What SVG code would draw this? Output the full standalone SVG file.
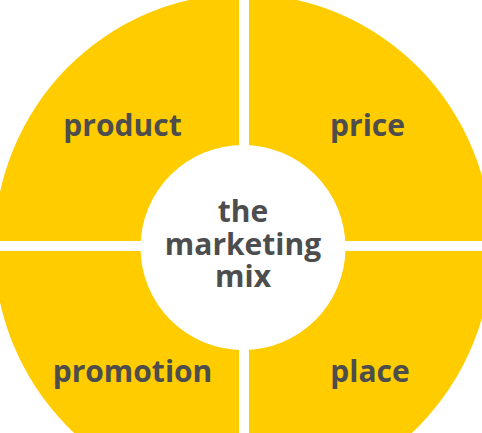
<svg xmlns="http://www.w3.org/2000/svg" width="482" height="433" viewBox="0 0 482 433">
  <style>
    .lbl { font-family: "Open Sans", "Liberation Sans", sans-serif; font-weight: bold; font-size: 30px; fill: #4d4d4d; text-anchor: middle; }
    .seg { fill: #ffcc00; }
  </style>
  <rect width="482" height="433" fill="#ffffff"/>
  <defs>
    <clipPath id="q1"><rect x="0" y="0" width="239" height="241"/></clipPath>
    <clipPath id="q2"><rect x="249" y="0" width="233" height="241"/></clipPath>
    <clipPath id="q3"><rect x="0" y="251" width="239" height="182"/></clipPath>
    <clipPath id="q4"><rect x="249" y="251" width="233" height="182"/></clipPath>
  </defs>
  <g id="product">
    <ellipse class="seg" cx="243" cy="247" rx="249" ry="253" clip-path="url(#q1)"/>
    <text class="lbl" x="122.5" y="136">product</text>
  </g>
  <g id="price">
    <ellipse class="seg" cx="243" cy="247" rx="249" ry="253" clip-path="url(#q2)"/>
    <text class="lbl" x="367.5" y="136">price</text>
  </g>
  <g id="promotion">
    <ellipse class="seg" cx="243" cy="247" rx="249" ry="253" clip-path="url(#q3)"/>
    <text class="lbl" x="132.5" y="382">promotion</text>
  </g>
  <g id="place">
    <ellipse class="seg" cx="243" cy="247" rx="249" ry="253" clip-path="url(#q4)"/>
    <text class="lbl" x="370" y="382">place</text>
  </g>
  <g id="center">
    <circle cx="243" cy="247.5" r="102.5" fill="#ffffff"/>
    <text class="lbl" x="243" y="222">the</text>
    <text class="lbl" x="243" y="255">marketing</text>
    <text class="lbl" x="243" y="287">mix</text>
  </g>
  <g id="connectors"/>
</svg>
